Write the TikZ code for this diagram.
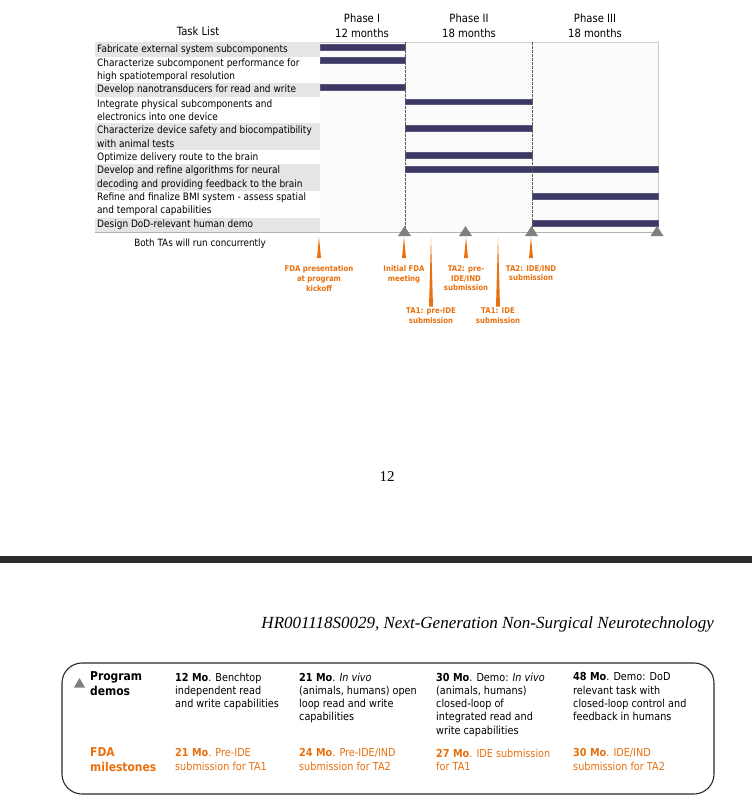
\documentclass[tikz,border=0pt]{standalone}
\usepackage{fontspec}
\setmainfont{DejaVu Sans}[FakeStretch=0.88]
\newfontfamily\tms{Liberation Serif}
\definecolor{barc}{RGB}{60,57,100}
\definecolor{orgc}{RGB}{232,112,15}
\definecolor{rowg}{RGB}{229,229,229}
\definecolor{trig}{RGB}{128,128,128}
\definecolor{gridc}{RGB}{205,205,205}
\definecolor{rulec}{RGB}{43,43,43}
\tikzset{
  tasktext/.style={anchor=west, inner sep=0pt, align=left, font=\fontsize{10.2}{13.3}\selectfont},
  phasehead/.style={anchor=north, inner sep=0pt, align=center, font=\fontsize{11.4}{14.5}\selectfont},
  ganttbar/.style={fill=barc, draw=barc!85, line width=0.3pt},
  demotri/.style={fill=trig, draw=none},
  fdaspike/.style={fill=orgc, draw=none},
  fdalabel/.style={anchor=north, inner sep=0pt, align=center, text=orgc, font=\fontsize{7.9}{9.7}\selectfont\bfseries},
  phasedash/.style={draw=black!65, dashed, line width=0.5pt, dash pattern=on 2.5pt off 1.5pt},
  boxtext/.style={anchor=north west, inner sep=0pt, align=left, font=\fontsize{11}{13.3}\selectfont},
  boxhead/.style={anchor=north west, inner sep=0pt, align=left, font=\fontsize{12.2}{15}\selectfont\bfseries},
}
\begin{document}
\begin{tikzpicture}[x=1pt,y=-1pt]
\useasboundingbox (0,0) rectangle (752,805);
\fill[white] (0,0) rectangle (752,805);

% ---------- chart area ----------
\fill[black!1.5] (320,42.3) rectangle (658,231.7);
\draw[gridc, line width=0.6pt] (320,42.3) -- (658,42.3) -- (658,231.7);
\draw[gridc, line width=0.6pt] (95,42.3) -- (320,42.3);

% task rows
\foreach \ta/\tb/\fc in {42.3/56.7/rowg, 56.7/83.3/white, 83.3/96.7/rowg, 96.7/123.3/white,
  123.3/150/rowg, 150/164.3/white, 164.3/191/rowg, 191/217.7/white, 217.7/231.7/rowg}
  \fill[\fc] (95,\ta) rectangle (320,\tb);

\node[tasktext] (t1) at (97,49.5) {Fabricate external system subcomponents};
\node[tasktext] (t2) at (97,70) {Characterize subcomponent performance for\\high spatiotemporal resolution};
\node[tasktext] (t3) at (97,90) {Develop nanotransducers for read and write};
\node[tasktext] (t4) at (97,110) {Integrate physical subcomponents and\\electronics into one device};
\node[tasktext] (t5) at (97,136.7) {Characterize device safety and biocompatibility\\with animal tests};
\node[tasktext] (t6) at (97,157.2) {Optimize delivery route to the brain};
\node[tasktext] (t7) at (97,177.7) {Develop and refine algorithms for neural\\decoding and providing feedback to the brain};
\node[tasktext] (t8) at (97,204.4) {Refine and finalize BMI system - assess spatial\\and temporal capabilities};
\node[tasktext] (t9) at (97,224.7) {Design DoD-relevant human demo};

% headers
\node[phasehead] (hTask) at (198,27) {Task List};
\node[phasehead] (hP1) at (362,14) {Phase I\\12 months};
\node[phasehead] (hP2) at (469,14) {Phase II\\18 months};
\node[phasehead] (hP3) at (595,14) {Phase III\\18 months};

% bars
\fill[ganttbar] (320,44.3) rectangle (405,50.1);
\fill[ganttbar] (320,57.6) rectangle (405,63.4);
\fill[ganttbar] (320,84.3) rectangle (405,90.1);
\fill[ganttbar] (405,98.8) rectangle (532,104.6);
\fill[ganttbar] (405,125.5) rectangle (532,131.3);
\fill[ganttbar] (405,152.2) rectangle (532,158.0);
\fill[ganttbar] (405,166.1) rectangle (658,171.9);
\fill[ganttbar] (532,193.1) rectangle (658,198.9);
\fill[ganttbar] (532,219.9) rectangle (658,225.7);

% phase boundaries
\draw[phasedash] (405,42.3) -- (405,229);
\draw[phasedash] (532,42.3) -- (532,229);

% time axis
\draw[black!30, line width=0.9pt] (95,232) -- (658,232);

% demo triangles
\foreach \mx/\nm in {404.5/m1, 465.5/m2, 531.5/m3, 657/m4}{
  \coordinate (\nm) at (\mx,226);
  \fill[demotri] (\nm) -- ++(-6.5,10) -- ++(13,0) -- cycle;
}

\node[anchor=north, inner sep=0pt, font=\fontsize{10}{12}\selectfont] (both) at (200,239) {Both TAs will run concurrently};

% FDA labels and spikes
\node[fdalabel] (l1) at (319,265.5) {FDA presentation\\at program\\kickoff};
\node[fdalabel] (l2) at (404,265.5) {Initial FDA\\meeting};
\node[fdalabel] (l3) at (431,307.5) {TA1: pre-IDE\\submission};
\node[fdalabel] (l4) at (466,265.5) {TA2: pre-\\IDE/IND\\submission};
\node[fdalabel] (l5) at (498,307.5) {TA1: IDE\\submission};
\node[fdalabel] (l6) at (531,265) {TA2: IDE/IND\\submission};
\foreach \lb/\bot in {l1/258, l2/258, l3/306.5, l4/258, l5/306.5, l6/258}{
  \fill[fdaspike] ([yshift=1pt]\lb.north |- 0,238) -- ([xshift=-2pt]\lb.north |- 0,\bot) -- ([xshift=2pt]\lb.north |- 0,\bot) -- cycle;
}

% page number and rule
\node[inner sep=0pt, font=\tms\fontsize{15}{18}\selectfont] (pg) at (387,477) {12};
\fill[rulec] (0,556) rectangle (752,562.5);

% running header
\node[anchor=base east, inner sep=0pt, font=\tms\itshape\fontsize{17}{20}\selectfont] (hdr) at (714,628) {HR001118S0029, Next-Generation Non-Surgical Neurotechnology};

% ---------- legend box ----------
\draw[rulec, line width=1.1pt, rounded corners=20pt] (62,663) rectangle (714,794);
\coordinate (lt) at (79.5,678);
\fill[demotri] (lt) -- (74,687.5) -- (85,687.5) -- cycle;
\node[boxhead] (pd) at (90,671.5) {Program\\demos};
\node[boxhead, text=orgc] (fm) at (90,747.5) {FDA\\milestones};

\node[boxtext] (d1) at (175,672.5) {\textbf{12 Mo}. Benchtop\\independent read\\and write capabilities};
\node[boxtext] (d2) at (299,672.5) {\textbf{21 Mo}. \textit{In vivo}\\(animals, humans) open\\loop read and write\\capabilities};
\node[boxtext] (d3) at (436,672.5) {\textbf{30 Mo}. Demo: \textit{In vivo}\\(animals, humans)\\closed-loop of\\integrated read and\\write capabilities};
\node[boxtext] (d4) at (573,672.5) {\textbf{48 Mo}. Demo: DoD\\relevant task with\\closed-loop control and\\feedback in humans};

\node[boxtext, text=orgc] (f1) at (175,748.5) {\textbf{21 Mo}. Pre-IDE\\submission for TA1};
\node[boxtext, text=orgc] (f2) at (299,748.5) {\textbf{24 Mo}. Pre-IDE/IND\\submission for TA2};
\node[boxtext, text=orgc] (f3) at (436,748.5) {\textbf{27 Mo}. IDE submission\\for TA1};
\node[boxtext, text=orgc] (f4) at (573,748.5) {\textbf{30 Mo}. IDE/IND\\submission for TA2};
\end{tikzpicture}
\end{document}
